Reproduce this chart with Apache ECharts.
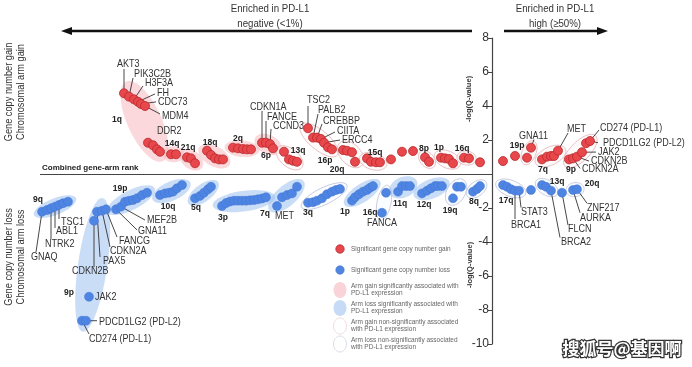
<!DOCTYPE html>
<html><head><meta charset="utf-8">
<script src="https://cdn.jsdelivr.net/npm/echarts@6/dist/echarts.min.js"></script>
<style>html,body{margin:0;padding:0;background:#fff}#c{width:692px;height:367px}</style>
</head><body><div id="c"></div>
<script>
// y axis ticks (-log Q-value)
const yTicks = [8, 6, 4, 2, 0, -2, -4, -6, -8, -10];

// gene copy number gain points: [rank, -log(Q), arm]
const gainPoints = [
 [-368,4.75,'1q'],[-363,4.55,'1q'],[-358,4.39,'1q'],[-354,4.25,'1q'],[-351,4.12,'1q'],[-347,4.0,'1q'],[-344,1.84,'1q'],[-339,1.69,'1q'],[-335,1.45,'1q'],[-332,1.31,'1q'],
 [-321,1.16,'14q'],[-316,1.16,'14q'],
 [-305,0.98,'21q'],[-301,0.92,'21q'],[-297,0.63,'21q'],
 [-285,1.37,'18q'],[-281,1.12,'18q'],[-277,0.92,'18q'],[-273,0.86,'18q'],[-269,0.86,'18q'],
 [-259,1.55,'2q'],[-254,1.51,'2q'],[-249,1.47,'2q'],[-245,1.45,'2q'],[-241,1.45,'2q'],
 [-230,1.84,'6p'],[-226,1.84,'6p'],[-222,1.76,'6p'],[-219,1.51,'6p'],
 [-208,1.31,'13q'],[-203,0.86,'13q'],[-199,0.78,'13q'],[-195,0.72,'13q'],
 [-184,2.69,'16p'],[-179,2.14,'16p'],[-175,2.14,'16p'],[-171,2.06,'16p'],[-168,1.84,'16p'],[-164,1.57,'16p'],[-160,1.45,'16p'],
 [-149,1.41,'20q'],[-145,1.37,'20q'],[-140,1.28,'20q'],[-137,0.72,'20q'],
 [-125,0.92,'15q'],[-121,0.72,'15q'],[-116,0.69,'15q'],[-112,0.69,'15q'],
 [-101,0.86,''],[-90,1.31,''],[-79,1.35,''],
 [-67,0.98,'8p'],[-63,0.72,'8p'],
 [-51,0.96,'1p'],[-47,0.92,'1p'],[-43,0.88,'1p'],[-39,0.63,'1p'],
 [-28,0.96,'16q'],[-23,0.92,'16q'],
 [-12,0.69,''],[11,0.76,''],[23,1.06,''],
 [35,0.96,'19p'],[39,1.55,'19p'],
 [50,0.86,'7q'],[55,1.02,'7q'],[59,1.06,'7q'],[62,1.06,'7q'],[66,1.37,'7q'],
 [77,0.86,'9p'],[81,0.92,'9p'],[85,1.02,'9p'],[90,1.28,'9p'],[94,1.81,'9p'],[98,1.94,'9p']
];

// gene copy number loss points: [rank, log(Q), arm]
const lossPoints = [
 [-450,-2.22,'9q'],[-445,-2.12,'9q'],[-441,-2.02,'9q'],[-437,-1.92,'9q'],[-433,-1.82,'9q'],[-429,-1.72,'9q'],[-424,-1.63,'9q'],
 [-410,-8.63,'9p'],[-406,-8.63,'9p'],[-403,-7.22,'9p'],[-398,-2.75,'9p'],[-395,-2.22,'9p'],[-390,-2.16,'9p'],[-386,-2.08,'9p'],
 [-376,-2.08,'19p'],[-371,-1.92,'19p'],[-367,-1.63,'19p'],[-363,-1.57,'19p'],[-359,-1.53,'19p'],[-355,-1.43,'19p'],[-350,-1.24,'19p'],[-345,-1.10,'19p'],
 [-332,-1.24,'10q'],[-327,-1.14,'10q'],[-323,-1.10,'10q'],[-319,-1.04,'10q'],[-315,-0.84,'10q'],[-310,-0.65,'10q'],
 [-297,-1.43,'5q'],[-292,-1.29,'5q'],[-288,-1.10,'5q'],[-284,-0.90,'5q'],[-281,-0.75,'5q'],
 [-270,-1.88,'3p'],[-266,-1.71,'3p'],[-262,-1.62,'3p'],[-258,-1.57,'3p'],[-254,-1.57,'3p'],[-250,-1.57,'3p'],[-246,-1.57,'3p'],[-242,-1.55,'3p'],[-238,-1.53,'3p'],[-234,-1.49,'3p'],[-230,-1.44,'3p'],[-226,-1.37,'3p'],
 [-215,-1.88,'7q'],[-210,-1.37,'7q'],[-205,-1.24,'7q'],[-200,-1.14,'7q'],[-195,-0.75,'7q'],
 [-184,-1.69,'3q'],[-179,-1.66,'3q'],[-175,-1.57,'3q'],[-170,-1.43,'3q'],[-165,-1.19,'3q'],[-160,-1.04,'3q'],[-156,-0.94,'3q'],[-152,-0.88,'3q'],
 [-140,-1.57,'1p'],[-137,-1.37,'1p'],[-133,-1.19,'1p'],[-129,-1.04,'1p'],[-125,-0.94,'1p'],[-122,-0.81,'1p'],[-119,-0.71,'1p'],
 [-110,-2.28,'16q'],[-106,-1.10,'16q'],
 [-94,-1.04,'11q'],[-90,-0.71,'11q'],[-86,-0.71,'11q'],[-82,-0.71,'11q'],
 [-70,-1.14,'12q'],[-65,-0.98,'12q'],[-61,-0.84,'12q'],[-57,-0.71,'12q'],[-54,-0.71,'12q'],[-50,-0.71,'12q'],
 [-39,-1.43,'19q'],[-35,-0.75,'19q'],[-31,-0.75,'19q'],
 [-19,-1.04,'8q'],[-15,-0.88,'8q'],[-12,-0.71,'8q'],
 [11,-0.65,'17q'],[15,-0.75,'17q'],[19,-0.90,'17q'],[23,-0.98,'17q'],[27,-0.98,'17q'],
 [39,-0.94,''],
 [50,-0.65,'13q'],[54,-0.75,'13q'],[59,-0.98,'13q'],
 [70,-1.10,''],
 [81,-0.94,'20q'],[85,-0.90,'20q']
];

// arms significantly associated with PD-L1 expression
const gainSigArms = ['1q','14q','21q','18q','2q','6p'];
const lossSigArms = ['9q','9p','19p','10q','5q','3p','7q','1p','11q','12q'];

// arm labels: [label, rank, q]
const gainArmLabels = [['1q',-375,3.18],['14q',-320,1.76],['21q',-304,1.53],['18q',-282,1.86],['2q',-254,2.06],['6p',-226,1.06],['13q',-194,1.35],['16p',-167,0.78],['20q',-155,0.24],['15q',-117,1.28],['8p',-68,1.51],['1p',-53,1.57],['16q',-30,1.51],['19p',25,1.65],['7q',51,0.24],['9p',79,0.24]];
const lossArmLabels = [['9q',-454,-1.49],['9p',-423,-6.96],['19p',-372,-0.84],['10q',-324,-1.92],['5q',-296,-1.96],['3p',-269,-2.55],['7q',-227,-2.31],['3q',-184,-2.28],['1p',-147,-2.22],['16q',-122,-2.25],['11q',-92,-1.72],['12q',-68,-1.82],['19q',-42,-2.16],['8q',-18,-1.63],['17q',14,-1.59],['13q',65,-0.45],['20q',100,-0.59]];

// gene labels: [gene, dotRank, dotQ, leaderEndRank, leaderEndQ, textRank, textQ]
const gainGenes = [
 ['AKT3',-368,4.75,-368,6.18,-375,6.47],
 ['PIK3C2B',-363,4.55,-359,5.65,-358,5.88],
 ['H3F3A',-358,4.39,-349,5.18,-347,5.35],
 ['FH',-354,4.25,-337,4.71,-335,4.76],
 ['CDC73',-351,4.12,-336,4.24,-334,4.24],
 ['MDM4',-347,4.0,-332,3.53,-330,3.41],
 ['DDR2',null,null,null,null,-335,2.53],
 ['CDKN1A',-230,1.84,-230,3.71,-242,3.94],
 ['FANCE',-226,1.84,-226,3.12,-225,3.35],
 ['CCND3',-222,1.76,-221,2.65,-219,2.82],
 ['TSC2',-184,2.69,-184,4.0,-185,4.35],
 ['PALB2',-179,2.14,-174,3.53,-174,3.76],
 ['CREBBP',-175,2.14,-170,2.94,-169,3.12],
 ['CIITA',-171,2.06,-157,2.47,-155,2.53],
 ['ERCC4',-168,1.84,-152,2.0,-150,2.03],
 ['GNA11',39,1.55,42,2.03,27,2.24],
 ['MET',66,1.37,76,2.41,75,2.65],
 ['CD274 (PD-L1)',98,1.94,107,2.59,108,2.68],
 ['PDCD1LG2 (PD-L2)',98,1.94,106,1.84,111,1.84],
 ['JAK2',90,1.28,104,1.29,106,1.29],
 ['CDKN2B',85,1.02,97,0.76,99,0.76],
 ['CDKN2A',81,0.92,88,0.33,90,0.28]
];
const lossGenes = [
 ['TSC1',-433,-1.82,-433,-2.65,-431,-2.82],
 ['ABL1',-437,-1.92,-437,-3.18,-436,-3.35],
 ['NTRK2',-441,-2.02,-441,-3.82,-447,-4.12],
 ['GNAQ',-450,-2.22,-456,-4.59,-461,-4.88],
 ['MEF2B',-371,-1.92,-347,-2.71,-345,-2.71],
 ['GNA11',-376,-2.08,-355,-3.29,-354,-3.35],
 ['FANCG',-386,-2.08,-375,-3.71,-373,-3.94],
 ['CDKN2A',-390,-2.16,-382,-4.29,-382,-4.53],
 ['PAX5',-395,-2.22,-392,-4.88,-389,-5.12],
 ['CDKN2B',-398,-2.75,-398,-5.47,-420,-5.71],
 ['JAK2',null,null,null,null,-397,-7.26],
 ['PDCD1LG2 (PD-L2)',-406,-8.63,-395,-8.63,-393,-8.71],
 ['CD274 (PD-L1)',-410,-8.63,-403,-9.41,-403,-9.71],
 ['MET',null,null,null,null,-217,-2.47],
 ['FANCA',null,null,null,null,-125,-2.88],
 ['STAT3',27,-0.98,29,-1.97,29,-2.24],
 ['BRCA1',23,-0.98,23,-2.65,19,-2.97],
 ['BRCA2',59,-0.98,68,-3.74,69,-4.0],
 ['FLCN',70,-1.10,76,-3.0,76,-3.26],
 ['AURKA',81,-0.94,88,-2.28,88,-2.56],
 ['ZNF217',85,-0.90,95,-1.72,95,-1.97]
];

const FONT = '"Liberation Sans", Arial, sans-serif';
const NARROW = 0.82;

function groupArms(points, sigList, kind) {
  const map = {};
  points.forEach(p => { if (!p[2]) return; (map[p[2]] = map[p[2]] || []).push(p); });
  return Object.keys(map).map(k => ({arm: k, pts: map[k], sig: sigList.indexOf(k) >= 0, kind}));
}
const armGroups = groupArms(gainPoints, gainSigArms, 'gain').concat(groupArms(lossPoints, lossSigArms, 'loss'));

function ellipsePoly(pix, pad) {
  const n = pix.length; let cx = 0, cy = 0;
  pix.forEach(p => { cx += p[0]; cy += p[1]; }); cx /= n; cy /= n;
  let sxx = 0, syy = 0, sxy = 0;
  pix.forEach(p => { const dx = p[0]-cx, dy = p[1]-cy; sxx += dx*dx; syy += dy*dy; sxy += dx*dy; });
  const ang = 0.5 * Math.atan2(2*sxy, sxx - syy);
  const ux = Math.cos(ang), uy = Math.sin(ang), vx = -uy, vy = ux;
  let minU = Infinity, maxU = -Infinity, minV = Infinity, maxV = -Infinity;
  pix.forEach(p => { const dx = p[0]-cx, dy = p[1]-cy; const u = dx*ux+dy*uy, v = dx*vx+dy*vy;
    minU = Math.min(minU,u); maxU = Math.max(maxU,u); minV = Math.min(minV,v); maxV = Math.max(maxV,v); });
  const cu = (minU+maxU)/2, cv = (minV+maxV)/2;
  const ccx = cx + cu*ux + cv*vx, ccy = cy + cu*uy + cv*vy;
  const rx = (maxU-minU)/2*1.05 + pad, ry = (maxV-minV)/2*1.3 + pad;
  const out = [];
  for (let i = 0; i < 48; i++) { const t = i/48*2*Math.PI; const a = rx*Math.cos(t), b = ry*Math.sin(t);
    out.push([ccx + a*ux + b*vx, ccy + a*uy + b*vy]); }
  return out;
}

function armStyle(g) {
  if (g.kind === 'gain') return g.sig ? {fill:'rgba(246,178,184,0.5)', stroke:'none'} : {fill:'rgba(255,245,245,0.5)', stroke:'rgba(228,185,188,0.9)', lineWidth:1};
  return g.sig ? {fill:'rgba(150,188,240,0.5)', stroke:'none'} : {fill:'rgba(248,250,255,0.5)', stroke:'rgba(190,200,220,0.9)', lineWidth:1};
}

function geneSeries(list) {
  return {
    type: 'custom', coordinateSystem: 'cartesian2d', silent: true, z: 3,
    data: list.map(a => [a[5], a[6]]),
    renderItem: (params, api) => {
      const a = list[params.dataIndex]; const children = [];
      if (a[1] != null) {
        const p1 = api.coord([a[1], a[2]]), p2 = api.coord([a[3], a[4]]);
        children.push({type:'line', shape:{x1:p1[0], y1:p1[1], x2:p2[0], y2:p2[1]}, style:{stroke:'#333', lineWidth:0.9}});
      }
      const t = api.coord([a[5], a[6]]);
      children.push({type:'text', x:t[0], y:t[1], scaleX:NARROW, style:{text:a[0], fill:'#333', fontSize:11, fontFamily:FONT, align:'left', verticalAlign:'middle'}});
      return {type:'group', children};
    }
  };
}
function armLabelSeries(list) {
  return {
    type: 'custom', coordinateSystem: 'cartesian2d', silent: true, z: 6,
    data: list.map(a => [a[1], a[2]]),
    renderItem: (params, api) => {
      const a = list[params.dataIndex]; const t = api.coord([a[1], a[2]]);
      return {type:'text', x:t[0], y:t[1], style:{text:a[0], fill:'#222', fontSize:8.5, fontWeight:'bold', fontFamily:FONT, align:'center', verticalAlign:'middle'}};
    }
  };
}

const chart = echarts.init(document.getElementById('c'), null, {renderer:'canvas'});

function txt(x, y, s, o, sx) { const e = {type:'text', x, y, silent:true, style:Object.assign({text:s, fill:'#333', fontSize:11, fontFamily:FONT, align:'center', verticalAlign:'middle'}, o || {})}; if (sx) e.scaleX = sx; return e; }
function rtxt(x, y, s, rot, o, sx) { const t = txt(x, y, s, o, sx); t.rotation = rot; return t; }

const legendItems = [
  ['Significant gene copy number gain', ''],
  ['Significant gene copy number loss', ''],
  ['Arm gain significantly associated with', 'PD-L1 expression'],
  ['Arm loss significantly associated with', 'PD-L1 expression'],
  ['Arm gain non-significantly associated', 'with PD-L1 expression'],
  ['Arm loss non-significantly associated', 'with PD-L1 expression']
];
const legendY = [249, 270, 290, 308, 326, 344];
const legendGraphics = [];
legendItems.forEach((it, i) => {
  const y = legendY[i];
  if (i === 0) legendGraphics.push({type:'circle', shape:{cx:340, cy:y, r:4.2}, style:{fill:'#e8474b', stroke:'#b8292d', lineWidth:0.8}});
  else if (i === 1) legendGraphics.push({type:'circle', shape:{cx:340, cy:y, r:4.2}, style:{fill:'#5086e0', stroke:'#3d6fcf', lineWidth:0.6}});
  else {
    const st = [{fill:'#f9d3d8'}, {fill:'#c8dbf6'}, {fill:'#fff', stroke:'#f1dcdc', lineWidth:1}, {fill:'#fff', stroke:'#d9dde6', lineWidth:1}][i-2];
    legendGraphics.push({type:'ellipse', shape:{cx:340, cy:y, rx:6.5, ry:8}, style:st});
  }
  if (it[1]) {
    legendGraphics.push(txt(351, y-3.5, it[0], {fontSize:6.5, fill:'#666', align:'left'}));
    legendGraphics.push(txt(351, y+3.5, it[1], {fontSize:6.5, fill:'#666', align:'left'}));
  } else legendGraphics.push(txt(351, y, it[0], {fontSize:6.5, fill:'#666', align:'left'}));
});

const yMin = yTicks[yTicks.length-1], yMax = yTicks[0];
const option = {
  animation: false,
  backgroundColor: '#fff',
  grid: [
    {left: 0, right: 0, top: 38, bottom: 23},
    {left: 492, width: 1, top: 38, bottom: 23}
  ],
  xAxis: [
    {type:'value', min:-492, max:200, show:false, gridIndex:0},
    {type:'value', min:0, max:1, show:false, gridIndex:1}
  ],
  yAxis: [
    {type:'value', min:yMin, max:yMax, interval:2, show:false, gridIndex:0},
    {
      type:'value', min:yMin, max:yMax, interval:2, gridIndex:1, position:'left',
      axisLine:{show:true, onZero:false, lineStyle:{color:'#444', width:1.2}},
      axisTick:{show:true, length:4, lineStyle:{color:'#444'}},
      axisLabel:{color:'#333', fontSize:12, margin:3, fontFamily:FONT, formatter: v => v === 0 ? '' : String(v)},
      splitLine:{show:false}
    }
  ],
  series: [
    {
      type:'custom', coordinateSystem:'cartesian2d', silent:true, z:1,
      data: armGroups.map(g => [g.pts[0][0], g.pts[0][1]]),
      renderItem: (params, api) => {
        const g = armGroups[params.dataIndex];
        const pix = g.pts.map(p => api.coord([p[0], p[1]]));
        const pad = g.sig ? 8 : 7;
        return {type:'polygon', shape:{points: ellipsePoly(pix, pad), smooth:0}, style: armStyle(g)};
      }
    },
    geneSeries(gainGenes),
    geneSeries(lossGenes),
    {
      type:'scatter', z:4, symbolSize:9, silent:true,
      data: gainPoints.map(p => [p[0], p[1]]),
      itemStyle:{color:'#e8474b', borderColor:'#b8292d', borderWidth:0.8, opacity:1},
      markLine: {silent:true, symbol:'none', label:{show:false}, lineStyle:{color:'#444', width:1.2, type:'solid'},
        data: [[{coord:[-452, 0]}, {coord:[0, 0]}]]}
    },
    {
      type:'scatter', z:4, symbolSize:9, silent:true,
      data: lossPoints.map(p => [p[0], p[1]]),
      itemStyle:{color:'#4f85e2', borderColor:'#3f72d2', borderWidth:0.5, opacity:1}
    },
    armLabelSeries(gainArmLabels),
    armLabelSeries(lossArmLabels)
  ],
  graphic: [
    txt(270, 9, 'Enriched in PD-L1', null, 0.88),
    txt(270, 24, 'negative (<1%)', null, 0.88),
    txt(555, 9, 'Enriched in PD-L1', null, 0.88),
    txt(555, 24, 'high (≥50%)', null, 0.88),
    {type:'line', shape:{x1:70, y1:31, x2:472, y2:31}, style:{stroke:'#111', lineWidth:2.6}},
    {type:'polygon', shape:{points:[[61,31],[72,27],[72,35]]}, style:{fill:'#111'}},
    {type:'line', shape:{x1:504, y1:31, x2:600, y2:31}, style:{stroke:'#111', lineWidth:2.6}},
    {type:'polygon', shape:{points:[[608,31],[597,27],[597,35]]}, style:{fill:'#111'}},
    rtxt(9, 92, 'Gene copy number gain', Math.PI/2, {fontSize:11}, 0.84),
    rtxt(21, 92, 'Chromosomal arm gain', Math.PI/2, {fontSize:11}, 0.84),
    rtxt(9, 257, 'Gene copy number loss', Math.PI/2, {fontSize:11}, 0.84),
    rtxt(21, 257, 'Chromosomal arm loss', Math.PI/2, {fontSize:11}, 0.84),
    rtxt(469, 99, '-log(Q-value)', Math.PI/2, {fontSize:7.5, fontWeight:'bold'}),
    rtxt(470, 265, '-log(Q-value)', Math.PI/2, {fontSize:7.5, fontWeight:'bold'}),
    txt(42, 168, 'Combined gene-arm rank', {fontSize:8, fontWeight:'bold', align:'left', fill:'#222'}),
    txt(622, 349, '搜狐号@基因啊', {fontSize:17, fontWeight:'bold', fontFamily:'"Noto Sans CJK SC", sans-serif', fill:'#fff', stroke:'#333', lineWidth:2.5})
  ].concat(legendGraphics)
};
chart.setOption(option);
</script></body></html>
